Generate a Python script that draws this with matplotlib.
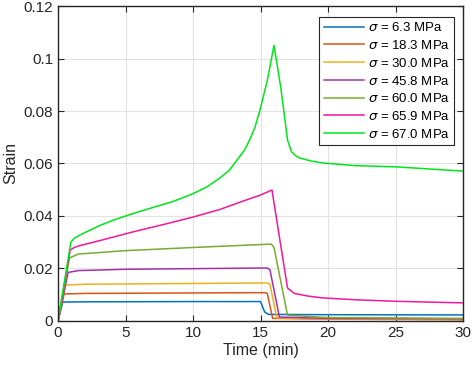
import matplotlib
matplotlib.use("Agg")
import matplotlib.pyplot as plt

plt.rcParams['font.family'] = ['Liberation Sans', 'DejaVu Sans']

# stress levels and their creep curves
labels = ['6.3', '18.3', '30.0', '45.8', '60.0', '65.9', '67.0']
colors = ['#0072BD', '#D95319', '#EDB120', '#A62FA8', '#77AC30', '#F0189C', '#00E61A']

t_63 = [0, 0.35, 2, 10, 15.0, 15.3, 15.6, 20, 30]
e_63 = [0, 0.0072, 0.0073, 0.0074, 0.0074, 0.0035, 0.0025, 0.0024, 0.0023]

t_183 = [0, 0.45, 2, 15.3, 15.5, 15.9, 20, 30]
e_183 = [0, 0.0103, 0.0105, 0.0108, 0.0105, 0.0010, 0.0007, 0.0005]

t_300 = [0, 0.55, 2, 15.5, 15.7, 16.2, 20, 30]
e_300 = [0, 0.0137, 0.0140, 0.0145, 0.0140, 0.0012, 0.0008, 0.0006]

t_458 = [0, 0.75, 1.5, 5, 15.5, 15.7, 16.4, 20, 30]
e_458 = [0, 0.0185, 0.0192, 0.0197, 0.0202, 0.0195, 0.0015, 0.0010, 0.0008]

t_600 = [0, 0.85, 1.5, 5, 10, 15.8, 16.0, 17.0, 20, 30]
e_600 = [0, 0.0240, 0.0255, 0.0268, 0.0280, 0.0293, 0.0280, 0.0022, 0.0013, 0.0010]

t_659 = [0, 0.9, 1.2, 1.6, 3, 5.6, 8, 10, 12, 13.5, 15, 15.85, 16.4, 17.0, 17.5, 18.5,
         19.6, 22, 25, 30]
e_659 = [0, 0.0270, 0.0280, 0.0287, 0.0305, 0.0340, 0.0370, 0.0396, 0.0425, 0.0453,
         0.0480, 0.0499, 0.0320, 0.0126, 0.0105, 0.0095, 0.0088, 0.0081, 0.0075, 0.0069]

t_670 = [0, 0.95, 1.2, 1.6, 2.2, 3.1, 4.3, 5.6, 7, 8.5, 10, 11, 12, 12.7, 13.26, 13.8, 14.2,
         14.6, 14.96, 15.5, 16.0, 16.5, 16.8, 17.0, 17.3, 17.6, 17.9, 18.7, 19.6, 22,
         25.1, 30]
e_670 = [0, 0.0300, 0.0315, 0.0327, 0.0342, 0.0364, 0.0388, 0.0410, 0.0432, 0.0455,
         0.0485, 0.0510, 0.0545, 0.0575, 0.0613, 0.0650, 0.0690, 0.0740, 0.0804, 0.0915,
         0.1050, 0.0890, 0.0770, 0.0690, 0.0644, 0.0630, 0.0621, 0.0610, 0.0602, 0.0592,
         0.0587, 0.0571]

times = [t_63, t_183, t_300, t_458, t_600, t_659, t_670]
strains = [e_63, e_183, e_300, e_458, e_600, e_659, e_670]

fig = plt.figure(figsize=(4.74, 3.71), dpi=100)
ax = fig.add_axes([0.1224, 0.1348, 0.8544, 0.849])

for t, e, lab, c in zip(times, strains, labels, colors):
    ax.plot(t, e, color=c, lw=1.1, label=r'$\sigma$ = ' + lab + ' MPa')

ax.set_xlim(0, 30)
ax.set_ylim(0, 0.12)
ax.set_xticks([0, 5, 10, 15, 20, 25, 30])
ax.set_yticks([0, 0.02, 0.04, 0.06, 0.08, 0.1, 0.12])
ax.set_yticklabels(['0', '0.02', '0.04', '0.06', '0.08', '0.1', '0.12'])
ax.tick_params(direction='in', top=True, right=True, labelsize=11, length=4, width=0.8, colors='#262626')
ax.grid(True, color='#E3E3E3', lw=0.8)
for s in ax.spines.values():
    s.set_color('#262626')
    s.set_linewidth(1.0)

ax.set_xlabel('Time (min)', fontsize=11.5, color='#262626', labelpad=2)
ax.set_ylabel('Strain', fontsize=11.5, color='#262626', labelpad=4)

leg = ax.legend(loc='upper right', fontsize=9.5, handlelength=3.0, borderpad=0.35,
                labelspacing=0.36, handletextpad=0.3, fancybox=False, framealpha=1,
                bbox_to_anchor=(0.995, 0.987))
leg.get_frame().set_edgecolor('#262626')
leg.get_frame().set_linewidth(0.8)

fig.savefig('out.png', dpi=100)
